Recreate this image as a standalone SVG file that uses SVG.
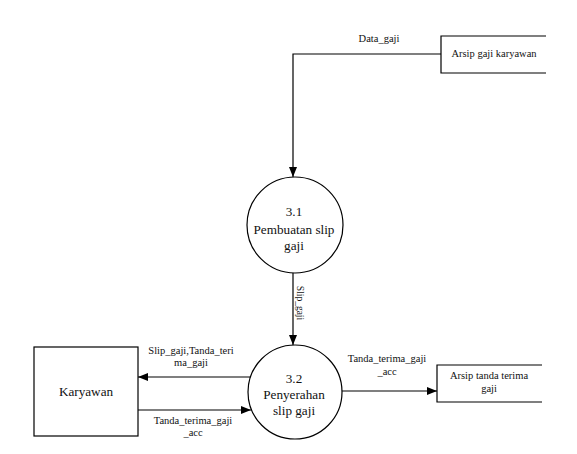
<svg xmlns="http://www.w3.org/2000/svg" width="577" height="454" viewBox="0 0 577 454" font-family="'Liberation Serif', 'Times New Roman', serif">
<defs>
<marker id="ah" viewBox="0 0 10 8" refX="10" refY="4" markerWidth="10" markerHeight="8" markerUnits="userSpaceOnUse" orient="auto">
<path d="M0,0 L10,4 L0,8 Z" fill="#000"/>
</marker>
</defs>
<style>
text{font-family:'Liberation Serif','Times New Roman',serif;fill:#111;text-anchor:middle}
.n{font-size:13.2px}
.s{font-size:10.5px}
.shape{fill:#fff;stroke:#000;stroke-width:1.2}
.ds{fill:none;stroke:#000;stroke-width:1.2}
.c{fill:none;stroke:#000;stroke-width:1.2;marker-end:url(#ah)}
</style>
<rect width="577" height="454" fill="#fff"/>
<g id="connectors">
<polyline class="c" points="441,54 293,54 293,177"/>
<line class="c" x1="293" y1="273" x2="293" y2="345"/>
<line class="c" x1="250" y1="377" x2="138" y2="377"/>
<line class="c" x1="138" y1="410" x2="251" y2="410"/>
<line class="c" x1="342" y1="391" x2="437" y2="391"/>
<text class="s" x="379" y="42">Data_gaji</text>
<text class="s" style="font-size:9.5px" transform="translate(297,303) rotate(90)" x="0" y="0">Slip_gaji</text>
<text class="s" x="191" y="354">Slip_gaji,Tanda_teri</text>
<text class="s" x="191" y="366">ma_gaji</text>
<text class="s" x="193" y="424">Tanda_terima_gaji</text>
<text class="s" x="193" y="436">_acc</text>
<text class="s" x="387" y="362">Tanda_terima_gaji</text>
<text class="s" x="387" y="375">_acc</text>
</g>
<g id="ds-arsip-gaji">
<polyline class="ds" points="546,36 441,36 441,73 546,73"/>
<text class="s" x="494" y="57">Arsip gaji karyawan</text>
</g>
<g id="p31">
<circle class="shape" cx="295" cy="225" r="48"/>
<text class="n" x="294" y="216">3.1</text>
<text class="n" x="294" y="234">Pembuatan slip</text>
<text class="n" x="294" y="250">gaji</text>
</g>
<g id="p32">
<circle class="shape" cx="295" cy="392" r="47"/>
<text class="n" x="294" y="383">3.2</text>
<text class="n" x="294" y="399">Penyerahan</text>
<text class="n" x="294" y="415">slip gaji</text>
</g>
<g id="karyawan">
<rect class="shape" x="34" y="347" width="104" height="89"/>
<text class="n" x="86" y="396">Karyawan</text>
</g>
<g id="ds-arsip-tanda">
<polyline class="ds" points="542,365 437,365 437,402 542,402"/>
<text class="s" x="489" y="379">Arsip tanda terima</text>
<text class="s" x="489" y="392">gaji</text>
</g>
</svg>
